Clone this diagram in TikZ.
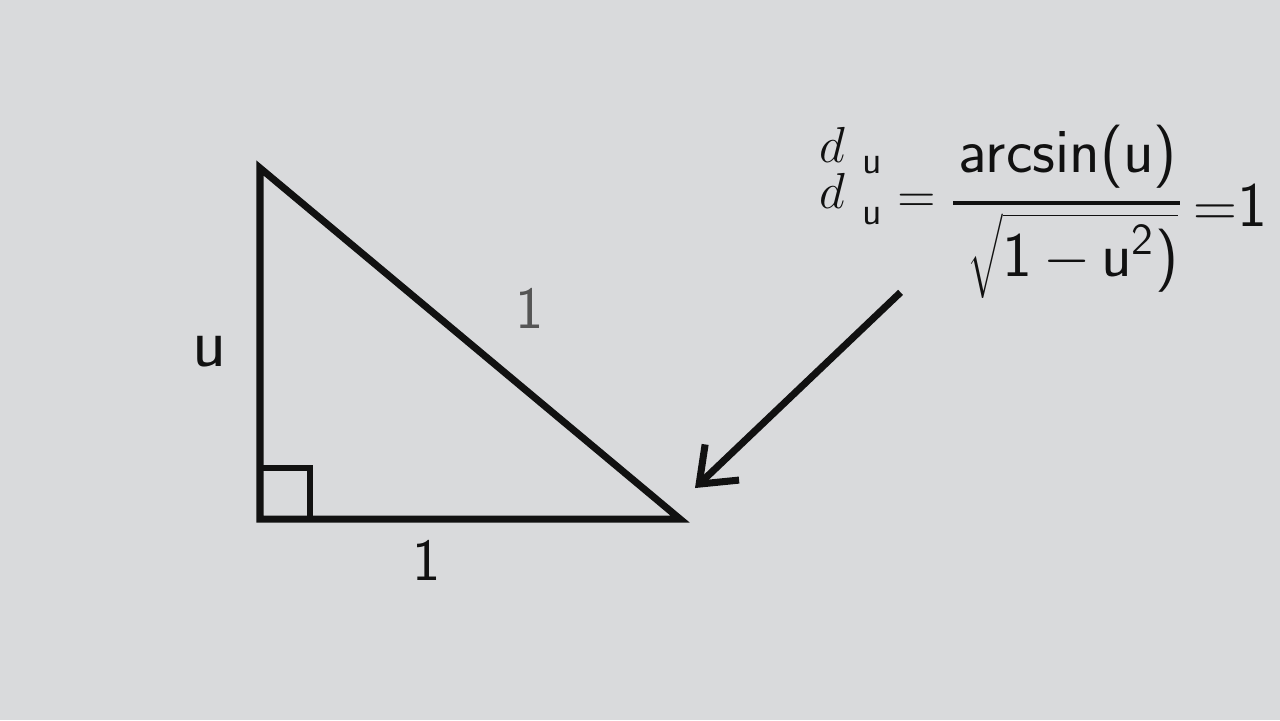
\documentclass[tikz,border=0pt]{standalone}
\usetikzlibrary{arrows.meta}
\definecolor{bg}{HTML}{D9DADC}
\definecolor{ink}{HTML}{111111}
\definecolor{grayink}{HTML}{555555}
\begin{document}
\begin{tikzpicture}[x=0.01cm,y=-0.01cm,
  edge/.style={draw=ink,line width=2pt,line join=miter},
  lbl/.style={text=ink,inner sep=0pt,font=\sffamily\fontsize{17}{20}\selectfont},
  fml/.style={text=ink,inner sep=0pt}]
\fill[bg] (0,0) rectangle (1280,720);
\useasboundingbox (0,0) rectangle (1280,720);
% triangle
\coordinate (T) at (260,168);
\coordinate (O) at (260,519);
\coordinate (R) at (680,519);
\draw[edge] (T) -- (O) -- (R) -- cycle;
\draw[edge,line width=1.5pt] (260,468) -- (310,468) -- (310,519);
% labels
\node[lbl,font=\sffamily\fontsize{20}{22}\selectfont] (lu) at (210,352) {u};
\node[lbl,text=grayink] (lh) at (530,308) {1};
\node[lbl] (lb) at (427,560) {1};
% formula
\node[fml,font=\fontsize{14}{16}\selectfont] (d1) at (832,145) {$d$};
\node[fml,font=\sffamily\fontsize{11}{12}\selectfont] (u1) at (872,165) {u};
\node[fml,font=\fontsize{14}{16}\selectfont] (d2) at (832,191) {$d$};
\node[fml,font=\sffamily\fontsize{11}{12}\selectfont] (u2) at (872,216) {u};
\node[fml,font=\fontsize{15}{16}\selectfont] (eq1) at (917,203) {$=$};
\node[fml,font=\sffamily\fontsize{18}{20}\selectfont] (num) at (1068,157) {arcsin(u)};
\draw[ink,line width=1.2pt] (953,203) -- (1180,203);
\node[fml,font=\sffamily\fontsize{18}{20}\selectfont] (den) at (1073,256) {$\sqrt{\mbox{1\,$-$\,u\textsuperscript{2})}}$};
\node[fml,font=\sffamily\fontsize{18}{20}\selectfont] (eq2) at (1230,205) {$=$1};
% arrow
\node[inner sep=0pt] (src) at (903,290) {};
\coordinate (tip) at (695,488);
\draw[edge,-{Straight Barb[length=9pt,width=14pt]}] (src) -- (tip);
\end{tikzpicture}
\end{document}
